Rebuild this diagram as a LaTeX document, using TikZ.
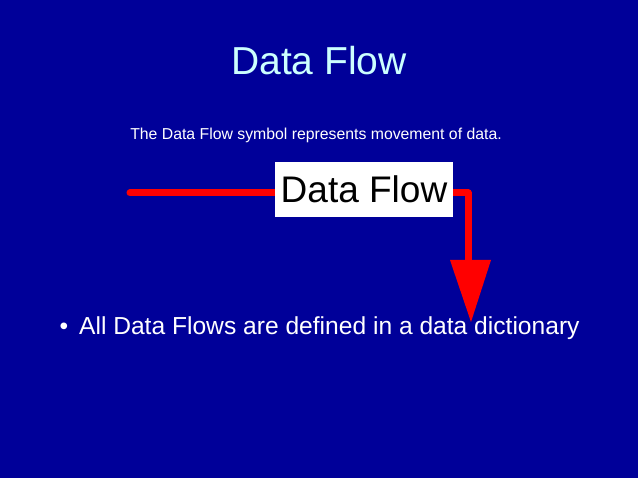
\documentclass[tikz,border=0pt]{standalone}
\usepackage{fontspec}
\setmainfont{Liberation Sans}
\definecolor{bg}{HTML}{000099}
\definecolor{ttl}{HTML}{CCFFFF}
\definecolor{flow}{HTML}{FF0000}
\begin{document}
\begin{tikzpicture}[x=1pt,y=-1pt,
  flowline/.style={draw=flow,line width=7pt,line cap=round,line join=round}]
\fill[bg] (0,0) rectangle (638,478);
\node[text=ttl,font=\fontsize{39}{42}\selectfont] (title) at (319,61) {Data Flow};
\node[text=white,font=\fontsize{15.8}{18}\selectfont] (sub) at (316,135) {The Data Flow symbol represents movement of data.};
\coordinate (start) at (130,193);
\coordinate (corner) at (468,193);
\coordinate (neck) at (468,262);
\node[text=white,font=\fontsize{24.6}{28}\selectfont,anchor=west] (bullet) at (56,328) {•\hspace{11pt}All Data Flows are defined in a data dictionary};
\draw[flowline] (start) -- (corner) -- (neck);
\fill[flow] (450,260) -- (491,260) -- (471,322) -- cycle;
\node[fill=white,text=black,font=\fontsize{37}{40}\selectfont,minimum width=178pt,minimum height=55pt,inner sep=0pt] (box) at (364,189.5) {Data Flow};
\end{tikzpicture}
\end{document}
